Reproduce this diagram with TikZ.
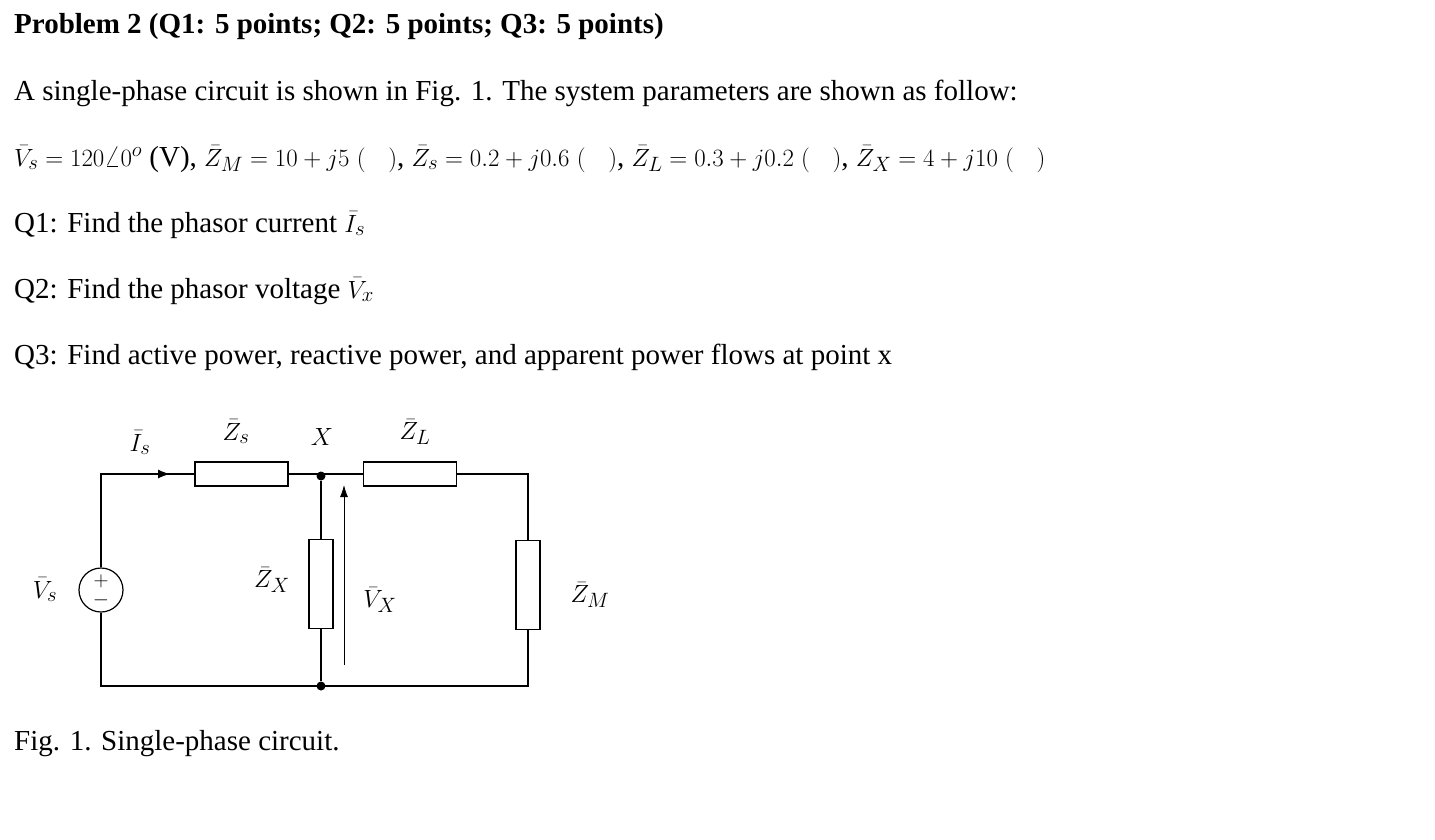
\documentclass[tikz,border=0pt]{standalone}
\usepackage{fontspec}
\setmainfont{Liberation Serif}
\usetikzlibrary{arrows.meta}
\begin{document}
\begin{tikzpicture}[x=1pt,y=-1pt,
  txt/.style={anchor=base west,inner sep=0pt,font=\fontsize{29}{34}\selectfont},
  lbl/.style={inner sep=0pt,font=\fontsize{29}{34}\selectfont},
  res/.style={draw,line width=1.2pt,minimum width=93pt,minimum height=24pt,inner sep=0pt},
  vres/.style={draw,line width=1.2pt,minimum width=24pt,minimum height=89pt,inner sep=0pt},
  w/.style={line width=1.2pt},
  dot/.style={circle,fill,inner sep=0pt,minimum size=9pt}]
\useasboundingbox (0,0) rectangle (1435,839);
\node[txt,font=\bfseries\fontsize{29}{34}\selectfont] (t0) at (14,33) {Problem 2 (Q1: 5 points; Q2: 5 points; Q3: 5 points)};
\node[txt] (t1) at (14,100) {A single-phase circuit is shown in Fig. 1. The system parameters are shown as follow:};
\node[txt] (t2) at (14,166) {$\bar{V}_s = 120\angle 0^o$ (V), $\bar{Z}_M = 10 + j5\ (\mathit{\Omega})$, $\bar{Z}_s = 0.2 + j0.6\ (\mathit{\Omega})$, $\bar{Z}_L = 0.3 + j0.2\ (\mathit{\Omega})$, $\bar{Z}_X = 4 + j10\ (\mathit{\Omega})$};
\node[txt] (t3) at (14,232) {Q1: Find the phasor current $\bar{I}_s$};
\node[txt] (t4) at (14,298) {Q2: Find the phasor voltage $\bar{V}_x$};
\node[txt] (t5) at (14,364) {Q3: Find active power, reactive power, and apparent power flows at point x};
\node[txt] (t6) at (14,750) {Fig. 1. Single-phase circuit.};
% circuit
\coordinate (tl) at (101,474);
\coordinate (bl) at (101,686);
\coordinate (tr) at (528,474);
\coordinate (br) at (528,686);
\node[res] (zs) at (241.5,474) {};
\node[res] (zl) at (410,474) {};
\node[vres] (zx) at (321,584) {};
\node[vres] (zm) at (528,585) {};
\node[dot] (nx) at (321,476) {};
\node[dot] (nb) at (321,686) {};
\node[draw,circle,line width=1.2pt,minimum size=44pt,inner sep=0pt] (src) at (101,590) {};
\node[font=\fontsize{20}{20}\selectfont,inner sep=0pt] (pl) at (101,581) {$+$};
\node[font=\fontsize{20}{20}\selectfont,inner sep=0pt] (mi) at (101,600) {$-$};
\draw[w] (src.north) -- (tl) -- (zs.west);
\draw[w] (zs.east) -- (zl.west);
\draw[w] (zl.east) -- (tr) -- (zm.north);
\draw[w] (zm.south) -- (br) -- (bl) -- (src.south);
\draw[w] (nx) -- (zx.north);
\draw[w] (zx.south) -- (nb);
\coordinate (ia) at (170,474);
\draw[w,-{Latex[length=12pt,width=9pt]}] (tl) -- (ia);
\coordinate (va) at (344,665);
\coordinate (vb) at (344,485);
\draw[line width=0.8pt,-{Latex[length=12pt,width=8pt]}] (va) -- (vb);
\node[lbl] (lis) at (140,443) {$\bar{I}_s$};
\node[lbl] (lzs) at (236,432) {$\bar{Z}_s$};
\node[lbl] (lx) at (322,437) {$X$};
\node[lbl] (lzl) at (415,432) {$\bar{Z}_L$};
\node[lbl] (lvs) at (45,590) {$\bar{V}_s$};
\node[lbl] (lzx) at (272,580) {$\bar{Z}_X$};
\node[lbl] (lvx) at (380,600) {$\bar{V}_X$};
\node[lbl] (lzm) at (590,595) {$\bar{Z}_M$};
\end{tikzpicture}
\end{document}
